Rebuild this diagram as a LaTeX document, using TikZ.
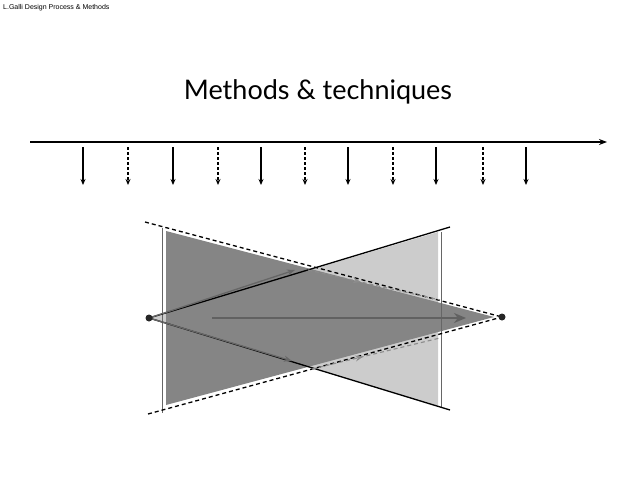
\documentclass[tikz,border=0pt]{standalone}
\usepackage{fontspec}
\setmainfont{Lato}
\newfontfamily\arialf{Liberation Sans}
\usetikzlibrary{arrows.meta}
\begin{document}
\begin{tikzpicture}[x=1pt,y=-1pt,
  tick/.style={line width=1.2pt,-{Stealth[length=6pt,width=5pt]}},
  dtick/.style={tick,dash pattern=on 3pt off 2pt},
  blackdash/.style={line width=1.3pt,dash pattern=on 4pt off 3pt},
  greyarrow/.style={draw=black!60,line width=1.1pt,-{Stealth[length=8pt,width=6pt]}},
  greydash/.style={draw=black!45,line width=1.1pt,dash pattern=on 4pt off 3pt,
    decoration={markings,mark=at position 0.4 with {\arrow{Stealth[length=8pt,width=6pt]}}},postaction={decorate}},
  dot/.style={circle,fill=black!85,inner sep=0pt,minimum size=7pt}]
\useasboundingbox (0,0) rectangle (638,479);
\node[anchor=north west,inner sep=0pt,font=\arialf\fontsize{7}{8}\selectfont] (hdr) at (3,4) {L.Galli Design Process \& Methods};
\node[font=\fontsize{27}{30}\selectfont] (title) at (318,92) {Methods \& techniques};
\coordinate (tl) at (30,142); \coordinate (tr) at (607,142);
\draw[line width=1.4pt,-{Stealth[length=8pt,width=6pt]}] (tl) -- (tr);
\foreach \x/\s in {83/tick,128/dtick,173/tick,218/dtick,261/tick,305/dtick,348/tick,393/dtick,436/tick,483/dtick,526/tick}{
  \coordinate (a\x) at (\x,147); \coordinate (b\x) at (\x,185);
  \draw[\s] (a\x) -- (b\x);}
% shapes
\coordinate (L) at (149,318); \coordinate (R) at (502,317);
\fill[black!20] (L) -- (438,232) -- (438,407) -- cycle;
\fill[black!48] (166,231) -- (494,317) -- (166,405) -- cycle;
\draw[black!60,line width=0.6pt] (162,228) -- (162,413);
\draw[black!60,line width=0.6pt] (441,232) -- (441,407);
\coordinate (ut) at (450,227); \coordinate (ub) at (450,410);
\draw[line width=1.3pt] (L) -- (ut);
\draw[line width=1.3pt] (L) -- (ub);
\draw[blackdash] (145,222) -- (R);
\draw[blackdash] (148,414) -- (R);
\coordinate (ua) at (295,270); \coordinate (la) at (292,361);
\draw[greyarrow,line width=1.3pt] (L) -- (ua);
\draw[greyarrow,line width=1.3pt] (L) -- (la);
\usetikzlibrary{decorations.markings}
\draw[greydash] (308,270) -- (440,300);
\draw[greydash] (312,369) -- (440,338);
\draw[draw=black!62,line width=2.5pt,-{Stealth[length=12pt,width=10pt]}] (212,318) -- (466,318);
\node[dot] (ld) at (L) {};
\node[dot] (rd) at (R) {};
\end{tikzpicture}
\end{document}
